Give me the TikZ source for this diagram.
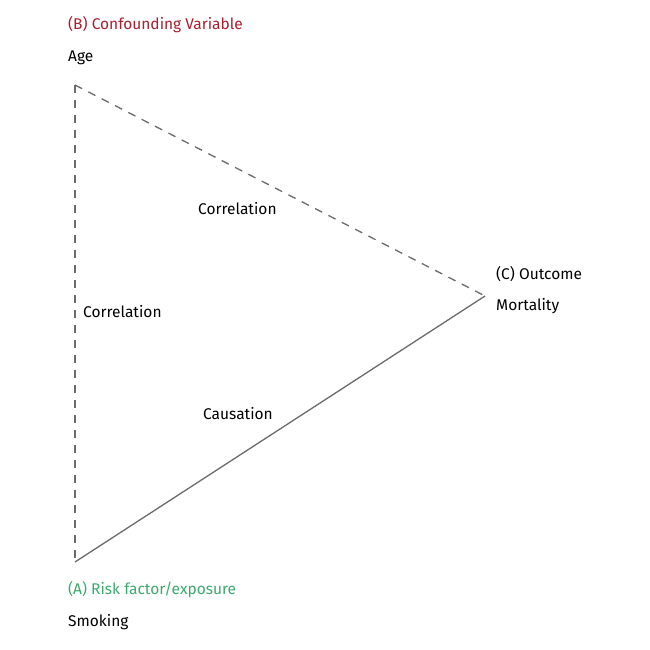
\documentclass[tikz,border=0pt]{standalone}
\usepackage{fontspec}
\setmainfont{Fira Sans}
\begin{document}
\begin{tikzpicture}[x=1pt,y=-1pt,
  lbl/.style={anchor=west,inner sep=0pt,font=\fontsize{15.5}{17}\selectfont},
  edge/.style={draw=black!58,line width=1.3pt},
  dashedge/.style={edge,dash pattern=on 8pt off 7pt}]
\path[use as bounding box,fill=white] (0,0) rectangle (650,650);
\coordinate (B) at (75,85);
\coordinate (C) at (485,296);
\coordinate (A) at (75,562);
\node[lbl,text={rgb,255:red,170;green,30;blue,45}] (bt) at (68,25) {(B) Confounding Variable};
\node[lbl] (bn) at (68,58) {Age};
\node[lbl] (ct) at (496,274) {(C) Outcome};
\node[lbl] (cn) at (496,306) {Mortality};
\node[lbl,text={rgb,255:red,61;green,170;blue,110}] (at) at (68,590) {(A) Risk factor/exposure};
\node[lbl] (an) at (68,622) {Smoking};
\draw[dashedge] (B) -- (C);
\draw[dashedge] (B) -- (A);
\draw[edge] (A) -- (C);
\node[lbl] (l1) at (198,209) {Correlation};
\node[lbl] (l2) at (83,312) {Correlation};
\node[lbl] (l3) at (203,414) {Causation};
\end{tikzpicture}
\end{document}
